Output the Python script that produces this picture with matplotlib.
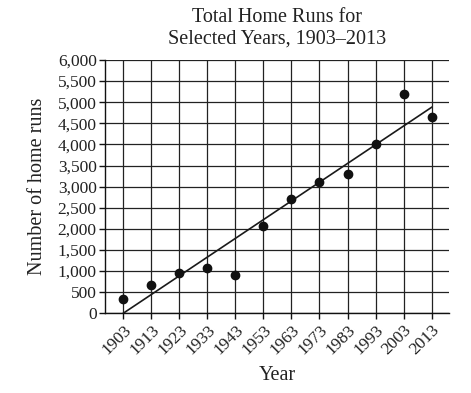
import matplotlib
matplotlib.use("Agg")
import matplotlib.pyplot as plt

# datos
years = [1903, 1913, 1923, 1933, 1943, 1953, 1963, 1973, 1983, 1993, 2003, 2013]
home_runs = [330, 660, 960, 1065, 900, 2070, 2700, 3100, 3295, 4020, 5200, 4645]

# recta de ajuste (extremos)
fit_x = [1903, 2013]
fit_y = [0, 4880]

y_ticks = list(range(0, 6001, 500))
y_labels = ["{:,}".format(v) for v in y_ticks]

plt.rcParams['font.family'] = ['Liberation Serif', 'DejaVu Serif']

fig = plt.figure(figsize=(4.71, 3.93), dpi=100)
ax = fig.add_axes([0.2229, 0.2028, 0.7304, 0.6445])

ax.plot(fit_x, fit_y, color='#1a1a1a', linewidth=1.2, zorder=3)
ax.plot(years, home_runs, 'o', color='#111111', markersize=6, zorder=4)

ax.set_xlim(1896.5, 2019.2)
ax.set_ylim(0, 6000)
ax.set_xticks(years)
ax.set_xticklabels([str(y) for y in years], rotation=45, ha='right',
                   rotation_mode='anchor', fontsize=12.5)
ax.set_yticks(y_ticks)
ax.set_yticklabels(y_labels, fontsize=12.5)

ax.grid(True, color='#222222', linewidth=0.9)
ax.set_axisbelow(True)
for s in ['top', 'right']:
    ax.spines[s].set_visible(False)
for s in ['left', 'bottom']:
    ax.spines[s].set_linewidth(1.0)
    ax.spines[s].set_color('#111111')

ax.tick_params(axis='both', direction='out', length=4, width=1, pad=2,
               colors='#111111', labelcolor='#222222')

ax.set_title("Total Home Runs for\nSelected Years, 1903\u20132013",
             fontsize=14.5, linespacing=1.2, pad=12, color='#222222')
ax.set_xlabel("Year", fontsize=14.5, color='#222222', labelpad=6)
ax.set_ylabel("Number of home runs", fontsize=14.5, color='#222222', labelpad=8)

fig.savefig("out.png", dpi=100)
